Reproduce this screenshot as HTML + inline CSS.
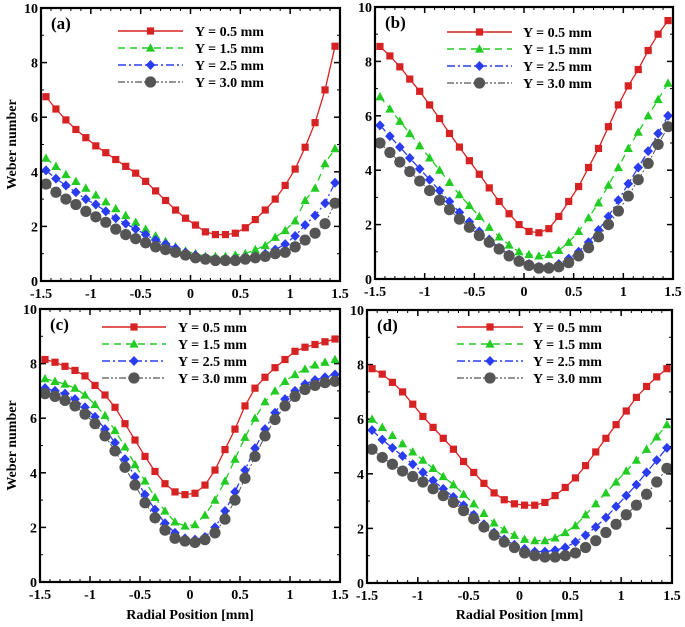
<!DOCTYPE html>
<html><head><meta charset="utf-8"><style>
html,body{margin:0;padding:0;background:#fff;}
svg{display:block;font-family:"Liberation Serif",serif;font-weight:bold;}
</style></head><body>
<svg id="chart" width="685" height="627" viewBox="0 0 685 627"></svg>
<script>
const xs=[-1.45,-1.35,-1.25,-1.15,-1.05,-0.95,-0.85,-0.75,-0.65,-0.55,-0.45,-0.35,-0.25,-0.15,-0.05,0.05,0.15,0.25,0.35,0.45,0.55,0.65,0.75,0.85,0.95,1.05,1.15,1.25,1.35,1.45];
const xTicks=[-1.5,-1,-0.5,0,0.5,1,1.5];
const xTickLabels=["-1.5","-1","-0.5","0","0.5","1","1.5"];
const yTicks=[0,2,4,6,8,10];
const seriesNames=["Y = 0.5 mm","Y = 1.5 mm","Y = 2.5 mm","Y = 3.0 mm"];
const aRed=[6.75,6.3,5.9,5.55,5.25,4.95,4.7,4.45,4.2,3.95,3.65,3.3,2.95,2.6,2.3,2.05,1.8,1.7,1.7,1.75,1.95,2.25,2.6,3.0,3.5,4.1,4.9,5.8,7.0,8.6];
const aGreen=[4.5,4.2,3.9,3.65,3.4,3.15,2.9,2.65,2.4,2.15,1.9,1.65,1.45,1.25,1.1,1.0,0.9,0.9,0.9,0.95,1.0,1.15,1.3,1.6,1.85,2.2,2.95,3.4,4.3,4.85];
const aBlue=[4.05,3.75,3.5,3.25,3.0,2.8,2.55,2.3,2.1,1.9,1.7,1.5,1.35,1.2,1.05,0.95,0.85,0.8,0.8,0.8,0.85,0.9,1.0,1.15,1.35,1.65,2.05,2.4,2.85,3.6];
const aGray=[3.55,3.25,3.0,2.8,2.55,2.35,2.15,1.9,1.7,1.55,1.4,1.25,1.15,1.05,0.95,0.85,0.8,0.75,0.75,0.75,0.8,0.85,0.9,1.0,1.05,1.25,1.5,1.75,2.1,2.85];
const bRed=[8.55,8.2,7.8,7.35,6.9,6.4,5.9,5.35,4.85,4.35,3.85,3.35,2.85,2.4,2.0,1.75,1.7,1.85,2.3,2.85,3.4,4.1,4.8,5.6,6.4,7.1,7.7,8.4,9.0,9.5];
const bGreen=[6.7,6.25,5.8,5.35,4.9,4.45,4.0,3.55,3.1,2.7,2.3,1.9,1.55,1.25,1.0,0.9,0.85,0.9,1.05,1.35,1.75,2.25,2.8,3.45,4.1,4.8,5.4,6.0,6.6,7.2];
const bBlue=[5.65,5.25,4.85,4.45,4.05,3.65,3.25,2.85,2.45,2.1,1.75,1.45,1.15,0.9,0.7,0.55,0.45,0.45,0.55,0.75,1.0,1.35,1.8,2.3,2.9,3.5,4.1,4.7,5.35,6.0];
const bGray=[5.0,4.65,4.3,3.95,3.6,3.25,2.9,2.55,2.2,1.9,1.6,1.35,1.1,0.85,0.65,0.5,0.4,0.4,0.45,0.6,0.85,1.15,1.55,2.0,2.5,3.05,3.65,4.25,4.95,5.6];
const cRed=[8.15,8.05,7.9,7.75,7.55,7.2,6.85,6.4,5.8,5.2,4.6,4.05,3.6,3.3,3.2,3.25,3.55,4.1,4.85,5.6,6.45,7.1,7.5,7.85,8.15,8.45,8.6,8.7,8.8,8.9];
const cGreen=[7.45,7.35,7.25,7.1,6.85,6.5,6.1,5.55,4.95,4.3,3.7,3.1,2.6,2.2,2.05,2.1,2.45,3.0,3.7,4.5,5.3,6.0,6.6,7.0,7.35,7.6,7.8,7.95,8.05,8.15];
const cBlue=[7.1,7.0,6.9,6.7,6.4,6.05,5.6,5.1,4.5,3.85,3.2,2.65,2.15,1.8,1.6,1.55,1.65,2.0,2.6,3.3,4.1,4.9,5.6,6.2,6.7,7.0,7.25,7.4,7.5,7.6];
const cGray=[6.9,6.8,6.65,6.45,6.15,5.8,5.35,4.8,4.2,3.55,2.9,2.35,1.9,1.6,1.5,1.45,1.55,1.8,2.3,3.0,3.8,4.6,5.35,5.95,6.45,6.8,7.05,7.2,7.3,7.35];
const dRed=[7.85,7.65,7.35,7.0,6.55,6.1,5.7,5.3,4.9,4.45,4.05,3.65,3.3,3.05,2.9,2.85,2.85,2.95,3.2,3.5,3.85,4.3,4.8,5.3,5.8,6.3,6.8,7.2,7.55,7.85];
const dGreen=[6.0,5.7,5.4,5.1,4.8,4.5,4.2,3.9,3.6,3.25,2.9,2.55,2.2,1.95,1.75,1.6,1.55,1.55,1.65,1.85,2.1,2.5,2.9,3.3,3.7,4.1,4.5,4.9,5.35,5.8];
const dBlue=[5.6,5.25,4.95,4.65,4.35,4.05,3.75,3.45,3.15,2.85,2.5,2.15,1.85,1.6,1.4,1.25,1.15,1.15,1.2,1.3,1.5,1.75,2.05,2.4,2.8,3.2,3.6,4.05,4.5,4.95];
const dGray=[4.9,4.6,4.35,4.1,3.9,3.7,3.45,3.2,2.95,2.65,2.35,2.05,1.75,1.5,1.3,1.1,1.0,0.95,0.95,1.0,1.1,1.3,1.55,1.85,2.15,2.5,2.85,3.25,3.7,4.2];

const NS="http://www.w3.org/2000/svg";
const svg=document.getElementById("chart");
function mk(tag,attrs,parent){const e=document.createElementNS(NS,tag);for(const k in attrs)e.setAttribute(k,attrs[k]);(parent||svg).appendChild(e);return e;}
const styles=[
 {color:"#d62222",dash:"",marker:"square",lw:1.3},
 {color:"#22cc22",dash:"7,5",marker:"tri",lw:1.3},
 {color:"#2a3cf0",dash:"8,3,2,3",marker:"diamond",lw:1.3},
 {color:"#555555",dash:"7,2,2,2,2,2",marker:"circle",lw:1}
];
function marker(g,type,cx,cy,color){
 let e;
 if(type==="square"){e=mk("rect",{x:cx-3.6,y:cy-3.6,width:7.2,height:7.2,fill:color},g);}
 else if(type==="tri"){e=mk("polygon",{points:`${cx},${cy-4.8} ${cx+4.6},${cy+3.6} ${cx-4.6},${cy+3.6}`,fill:color},g);}
 else if(type==="diamond"){e=mk("polygon",{points:`${cx},${cy-5} ${cx+4.8},${cy} ${cx},${cy+5} ${cx-4.8},${cy}`,fill:color},g);}
 else {e=mk("circle",{cx:cx,cy:cy,r:5.6,fill:color},g);}
 
 
}
const panels=[
 {id:"a",L:41,R:340,T:8,B:281,data:[aRed,aGreen,aBlue,aGray],leg:{x1:118,x2:183,tx:195,y:31},ylab:true,xlab:false},
 {id:"b",L:375,R:673,T:7,B:279,data:[bRed,bGreen,bBlue,bGray],leg:{x1:447,x2:512,tx:523,y:32},ylab:false,xlab:false},
 {id:"c",L:40,R:340,T:309,B:582,data:[cRed,cGreen,cBlue,cGray],leg:{x1:102,x2:166,tx:178,y:327},ylab:true,xlab:true},
 {id:"d",L:367,R:672,T:310,B:583,data:[dRed,dGreen,dBlue,dGray],leg:{x1:457,x2:523,tx:533,y:327},ylab:false,xlab:true}
];
panels.forEach(p=>{
 const g=mk("g",{});
 
 
 const X=v=>p.L+(v+1.5)/3*(p.R-p.L);
 const Y=v=>p.B-v/10*(p.B-p.T);
 // ticks
 xTicks.forEach((t,i)=>{
  mk("line",{x1:X(t),x2:X(t),y1:p.B,y2:p.B-6,stroke:"#000","stroke-width":1.5},g);
  mk("line",{x1:X(t),x2:X(t),y1:p.T,y2:p.T+6,stroke:"#000","stroke-width":1.5},g);
  const lbl=mk("text",{x:X(t),y:p.B+17,"font-size":14,"text-anchor":"middle"},g);
  lbl.textContent=xTickLabels[i];
  
  
 });
 for(let v=-1.4;v<1.5;v+=0.1){ if(Math.abs((v*10)%5)<0.01)continue;
  mk("line",{x1:X(v),x2:X(v),y1:p.B,y2:p.B-3,stroke:"#000","stroke-width":1},g);
  mk("line",{x1:X(v),x2:X(v),y1:p.T,y2:p.T+3,stroke:"#000","stroke-width":1},g);}
 yTicks.forEach(t=>{
  mk("line",{x1:p.L,x2:p.L+6,y1:Y(t),y2:Y(t),stroke:"#000","stroke-width":1.5},g);
  mk("line",{x1:p.R,x2:p.R-6,y1:Y(t),y2:Y(t),stroke:"#000","stroke-width":1.5},g);
  const lbl=mk("text",{x:p.L-3,y:Y(t)+5,"font-size":14,"text-anchor":"end"},g);
  lbl.textContent=t;
  
  
 });
 for(let v=1;v<10;v+=2){
  mk("line",{x1:p.L,x2:p.L+3,y1:Y(v),y2:Y(v),stroke:"#000","stroke-width":1},g);
  mk("line",{x1:p.R,x2:p.R-3,y1:Y(v),y2:Y(v),stroke:"#000","stroke-width":1},g);}
 // series
 p.data.forEach((arr,si)=>{
  const s=styles[si];
  const sg=mk("g",{},g);
  
  
  const pts=arr.map((v,i)=>X(xs[i])+","+Y(v)).join(" ");
  const pl=mk("polyline",{points:pts,fill:"none",stroke:s.color,"stroke-width":s.lw,"stroke-dasharray":s.dash},sg);
  
  
  arr.forEach((v,i)=>marker(sg,s.marker,X(xs[i]),Y(v),s.color));
 });
 // frame
 const fr=mk("rect",{x:p.L,y:p.T,width:p.R-p.L,height:p.B-p.T,fill:"none",stroke:"#000","stroke-width":2.2},g);
 
 
 // panel label
 const pl=mk("text",{x:p.L+10,y:p.T+21,"font-size":17},g);
 pl.textContent="("+p.id+")";
 
 
 // legend
 const lg=mk("g",{},g);
 
 
 seriesNames.forEach((n,si)=>{
  const s=styles[si]; const y=p.leg.y+si*17;
  const e=mk("g",{},lg);
  
  
  mk("line",{x1:p.leg.x1,x2:p.leg.x2,y1:y,y2:y,stroke:s.color,"stroke-width":s.lw+0.3,"stroke-dasharray":s.dash},e);
  marker(e,s.marker,(p.leg.x1+p.leg.x2)/2,y,s.color);
  const t=mk("text",{x:p.leg.tx,y:y+5,"font-size":14},e);
  t.textContent=n;
 });
 if(p.ylab){
  const cy=(p.T+p.B)/2;
  const t=mk("text",{x:16,y:cy,"font-size":14,"text-anchor":"middle",transform:`rotate(-90 16 ${cy})`},g);
  t.textContent="Weber number";
  
  
 }
 if(p.xlab){
  const t=mk("text",{x:(p.L+p.R)/2,y:619,"font-size":14,"text-anchor":"middle"},g);
  t.textContent="Radial Position [mm]";
  
  
 }
});
</script>
</body></html>
